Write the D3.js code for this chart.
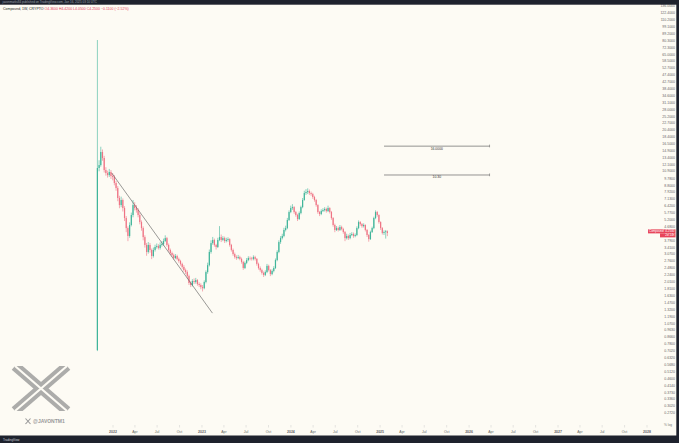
<!DOCTYPE html>
<html><head><meta charset="utf-8">
<script src="https://cdn.jsdelivr.net/npm/d3@7"></script>
<style>html,body{margin:0;padding:0;background:#fdfbf4;overflow:hidden}svg{display:block}</style>
</head><body><svg id="c" width="679" height="443"></svg>
<script>
// ---- data ----
const startWeek = "2021-10-29";
const firstOpen = 0.711;
const closes = [
11.46, 11.99, 14.63, 13.35, 11.11, 10.61, 10.29, 10.78, 10.14, 9.99,
9.11, 8.44, 7.25, 6.51, 7.03, 6.22, 5.34, 4.58, 4.06, 4.80,
5.59, 6.51, 6.22, 6.03, 5.59, 5.02, 4.58, 3.99, 3.54, 3.18,
3.54, 3.28, 2.99, 3.28, 3.43, 3.48, 3.38, 3.54, 3.59, 3.76,
3.93, 3.54, 3.28, 3.13, 3.03, 2.90, 2.99, 2.86, 2.77, 2.65,
2.53, 2.41, 2.34, 2.20, 1.98, 1.92, 2.04, 2.01, 2.07, 1.95,
1.92, 1.86, 1.83, 2.01, 2.34, 2.60, 3.18, 3.64, 3.82, 3.54,
3.43, 3.82, 3.99, 3.82, 3.93, 3.76, 3.82, 3.87, 3.54, 3.28,
3.08, 2.94, 2.90, 2.94, 2.86, 2.73, 2.49, 2.69, 2.81, 2.90,
2.88, 2.86, 2.94, 2.86, 2.65, 2.49, 2.41, 2.31, 2.24, 2.34,
2.57, 2.41, 2.27, 2.38, 2.49, 2.81, 3.18, 3.70, 3.93, 4.06,
4.45, 4.58, 5.18, 5.85, 6.22, 6.31, 5.85, 5.59, 5.26, 5.76,
6.31, 7.03, 7.82, 7.94, 8.06, 7.82, 7.70, 7.36, 7.03, 6.51,
5.85, 5.68, 5.94, 6.03, 6.13, 5.94, 6.22, 5.85, 5.34, 4.80,
4.45, 4.58, 4.45, 4.65, 4.51, 4.31, 3.93, 4.06, 3.93, 4.12,
4.18, 4.06, 4.12, 4.58, 5.02, 4.87, 4.72, 4.80, 4.45, 4.12,
3.87, 4.31, 4.58, 5.34, 5.85, 5.59, 5.02, 4.58, 4.25, 4.31,
4.36, 4.25];
const highs = [
80.9, 12.9, 15.86, 15.2, 13.8, 11.6, 11.0, 11.3, 11.1, 10.6,
10.3, 9.4, 8.7, 7.5, 7.4, 7.2, 6.4, 5.5, 4.7, 5.0,
5.8, 7.03, 6.8, 6.5, 6.2, 5.8, 5.15, 4.7, 4.1, 3.65,
3.7, 3.65, 3.35, 3.4, 3.55, 3.62, 3.58, 3.68, 3.75, 3.9,
4.1, 4.0, 3.62, 3.35, 3.2, 3.1, 3.08, 3.05, 2.92, 2.82,
2.7, 2.6, 2.47, 2.4, 2.25, 2.03, 2.1, 2.12, 2.14, 2.1,
2.0, 1.97, 1.92, 2.06, 2.4, 2.7, 3.3, 3.8, 4.0, 3.9,
3.6, 3.95, 4.72, 4.15, 4.05, 4.02, 3.95, 3.98, 3.92, 3.6,
3.35, 3.15, 3.02, 3.04, 3.0, 2.92, 2.78, 2.75, 2.9, 2.98,
2.97, 2.95, 3.02, 3.0, 2.9, 2.7, 2.55, 2.46, 2.36, 2.4,
2.65, 2.62, 2.45, 2.44, 2.56, 2.88, 3.26, 3.8, 4.05, 4.2,
4.6, 4.75, 5.35, 6.0, 6.45, 6.6, 6.4, 5.95, 5.7, 5.9,
6.45, 7.25, 8.1, 8.3, 8.4, 8.25, 8.0, 7.85, 7.5, 7.15,
6.6, 5.95, 6.1, 6.2, 6.3, 6.25, 6.45, 6.3, 5.95, 5.42,
4.9, 4.72, 4.68, 4.8, 4.75, 4.6, 4.38, 4.2, 4.15, 4.25,
4.3, 4.28, 4.22, 4.7, 5.15, 5.1, 4.95, 4.92, 4.85, 4.52,
4.18, 4.4, 4.68, 5.45, 6.0, 5.95, 5.65, 5.08, 4.65, 4.42,
4.45, 4.42];
const lows = [
0.70, 10.9, 11.7, 12.8, 10.7, 10.2, 9.9, 10.0, 9.7, 9.5,
8.8, 8.1, 6.9, 6.2, 6.3, 5.9, 5.1, 4.3, 3.75, 3.95,
4.7, 5.4, 6.0, 5.8, 5.4, 4.85, 4.4, 3.8, 3.4, 3.0,
3.1, 3.15, 2.85, 2.92, 3.2, 3.35, 3.3, 3.3, 3.45, 3.5,
3.7, 3.45, 3.2, 3.05, 2.95, 2.83, 2.85, 2.8, 2.7, 2.58,
2.46, 2.35, 2.27, 2.12, 1.92, 1.86, 1.88, 1.95, 1.96, 1.9,
1.86, 1.8, 1.74, 1.8, 1.97, 2.28, 2.55, 3.1, 3.55, 3.45,
3.3, 3.38, 3.75, 3.7, 3.75, 3.65, 3.68, 3.72, 3.45, 3.2,
3.0, 2.87, 2.82, 2.85, 2.8, 2.66, 2.42, 2.45, 2.64, 2.76,
2.8, 2.79, 2.8, 2.79, 2.58, 2.43, 2.35, 2.25, 2.17, 2.2,
2.3, 2.36, 2.2, 2.23, 2.33, 2.45, 2.76, 3.12, 3.6, 3.85,
3.98, 4.35, 4.5, 5.1, 5.75, 6.05, 5.7, 5.45, 5.1, 5.18,
5.65, 6.2, 6.95, 7.6, 7.7, 7.6, 7.5, 7.15, 6.85, 6.35,
5.7, 5.5, 5.58, 5.85, 5.9, 5.8, 5.85, 5.72, 5.2, 4.68,
4.3, 4.38, 4.35, 4.38, 4.42, 4.2, 3.75, 3.85, 3.82, 3.86,
4.05, 3.95, 3.98, 4.05, 4.5, 4.75, 4.6, 4.62, 4.35, 4.0,
3.72, 3.82, 4.25, 4.5, 5.25, 5.45, 4.9, 4.45, 4.15, 4.12,
3.9, 4.05];
const priceTicks = [136, 122.4, 110.2, 99.1, 89.2, 80.3, 72.3, 65.0, 58.5, 52.7,
47.4, 42.7, 38.4, 34.6, 31.1, 28.0, 25.2, 22.7, 20.4, 18.4,
16.5, 14.9, 13.4, 12.1, 10.9, 9.78, 8.80, 7.92, 7.13, 6.42,
5.77, 5.20, 4.68, 4.21, 3.79, 3.41, 3.07, 2.76, 2.48, 2.24,
2.01, 1.81, 1.63, 1.47, 1.32, 1.19, 1.07, 0.963, 0.866, 0.780,
0.702, 0.632, 0.568, 0.512, 0.460, 0.414, 0.373, 0.336, 0.302, 0.272];
const timeTickDates = ["2022-01-01","2022-04-01","2022-07-01","2022-10-01","2023-01-01","2023-04-01","2023-07-01","2023-10-01",
"2024-01-01","2024-04-01","2024-07-01","2024-10-01","2025-01-01","2025-04-01","2025-07-01","2025-10-01",
"2026-01-01","2026-04-01","2026-07-01","2026-10-01","2027-01-01","2027-04-01","2027-07-01","2027-10-01","2028-01-01"];
const timeTickLabels = ["2022","Apr","Jul","Oct","2023","Apr","Jul","Oct","2024","Apr","Jul","Oct","2025","Apr","Jul","Oct",
"2026","Apr","Jul","Oct","2027","Apr","Jul","Oct","2028"];
const trendDates = ["2021-12-27","2023-02-13"];
const trendPrices = [10.6, 1.25];
const levelPrices = [16.0, 10.3];
const levelLabels = ["16.0000", "10.30"];
const levelDates = ["2025-01-17","2026-03-26"];
const lastPrice = 4.25;

// ---- chart ----
const svg = d3.select("#c");
const W = 679, H = 443;
const bg = "#fdfbf4";
const font = "'Liberation Sans', Arial, sans-serif";
svg.append("rect").attr("width", W).attr("height", H).attr("fill", bg);

const pd = s => d3.utcParse("%Y-%m-%d")(s);
const x = d3.scaleUtc().domain([pd("2022-01-01"), pd("2028-01-01")]).range([113, 647]);
const y = d3.scaleLog().domain([0.272, 136]).range([413, 6]);

const start = pd(startWeek);
const candles = closes.map((c, i) => ({
  date: d3.utcHour.offset(start, 167 * i),
  o: i === 0 ? firstOpen : closes[i - 1], c, h: highs[i], l: lows[i]
}));

const up = "#3fb59a", dn = "#ef7384";
const g = svg.append("g");
g.selectAll("line.w").data(candles).join("line")
  .attr("x1", d => x(d.date)).attr("x2", d => x(d.date))
  .attr("y1", d => y(d.h)).attr("y2", d => y(d.l))
  .attr("stroke", d => d.c >= d.o ? up : dn).attr("stroke-width", 0.6);
g.selectAll("rect.b").data(candles).join("rect")
  .attr("x", d => x(d.date) - 0.6).attr("width", 1.2)
  .attr("y", d => y(Math.max(d.o, d.c)))
  .attr("height", d => Math.max(0.5, Math.abs(y(d.o) - y(d.c))))
  .attr("fill", d => d.c >= d.o ? up : dn);

// trendline
svg.append("line")
  .attr("x1", x(pd(trendDates[0]))).attr("y1", y(trendPrices[0]))
  .attr("x2", x(pd(trendDates[1]))).attr("y2", y(trendPrices[1]))
  .attr("stroke", "#555").attr("stroke-width", 0.6);

// horizontal levels
levelPrices.forEach((p, i) => {
  const x1 = x(pd(levelDates[0])), x2 = x(pd(levelDates[1])), yy = y(p);
  svg.append("line").attr("x1", x1).attr("x2", x2).attr("y1", yy).attr("y2", yy)
    .attr("stroke", "#666").attr("stroke-width", 0.7);
  svg.append("line").attr("x1", x2).attr("x2", x2).attr("y1", yy - 1.5).attr("y2", yy + 1.2)
    .attr("stroke", "#666").attr("stroke-width", 0.6);
  svg.append("text").attr("x", (x1 + x2) / 2).attr("y", yy + 3.4)
    .attr("text-anchor", "middle").attr("font-family", font).attr("font-size", 3.4)
    .attr("fill", "#333").text(levelLabels[i]);
});

// right price axis
const lp = y(lastPrice);
svg.append("g").selectAll("text").data(priceTicks.filter(v => Math.abs(y(v) - lp) > 5)).join("text")
  .attr("x", 675).attr("y", v => y(v) + 1.2).attr("text-anchor", "end")
  .attr("font-family", font).attr("font-size", 3.5).attr("fill", "#666")
  .text(d3.format(".4f"));
svg.append("rect").attr("x", 648).attr("y", lp - 3.6).attr("width", 27.5).attr("height", 4).attr("fill", "#e8455a");
svg.append("rect").attr("x", 660).attr("y", lp + 0.4).attr("width", 15.5).attr("height", 4).attr("fill", "#e8455a");
svg.append("text").attr("x", 649).attr("y", lp - 0.6).attr("font-family", font).attr("font-size", 3)
  .attr("fill", "#fff").text("Compound");
svg.append("text").attr("x", 674.5).attr("y", lp - 0.6).attr("text-anchor", "end").attr("font-family", font).attr("font-size", 3)
  .attr("fill", "#fff").text(d3.format(".4f")(lastPrice));
svg.append("text").attr("x", 674.5).attr("y", lp + 3.4).attr("text-anchor", "end").attr("font-family", font).attr("font-size", 3)
  .attr("fill", "#fff").text("2d 14h");

// bottom time axis
const tg = svg.append("g");
timeTickDates.forEach((d, i) => {
  const xx = x(pd(d));
  tg.append("line").attr("x1", xx).attr("x2", xx).attr("y1", 425).attr("y2", 427.5).attr("stroke", "#ccc").attr("stroke-width", 0.5);
  tg.append("text").attr("x", xx).attr("y", 432.5).attr("text-anchor", "middle")
    .attr("font-family", font).attr("font-size", 3.5).attr("fill", "#666")
    .attr("font-weight", /^\d/.test(timeTickLabels[i]) ? "bold" : "normal").text(timeTickLabels[i]);
});
svg.append("text").attr("x", 668).attr("y", 425.5).attr("text-anchor", "middle").attr("font-family", font)
  .attr("font-size", 3.2).attr("fill", "#777").text("% log");

// frame bars
svg.append("rect").attr("x", 0).attr("y", 0).attr("width", W).attr("height", 4.7).attr("fill", "#1e222d");
svg.append("rect").attr("x", 0).attr("y", 435.5).attr("width", W).attr("height", 8).attr("fill", "#1e222d");
svg.append("rect").attr("x", 676.3).attr("y", 0).attr("width", 3).attr("height", H).attr("fill", "#1e222d");
svg.append("text").attr("x", 2.5).attr("y", 3.4).attr("font-family", font).attr("font-size", 3)
  .attr("fill", "#9aa0aa").text("javonmarks84 published on TradingView.com, Jan 16, 2025 03:10 UTC");
svg.append("text").attr("x", 3).attr("y", 440.5).attr("font-family", font).attr("font-size", 3)
  .attr("fill", "#c8ccd4").text("TradingView");

// header
const hdr = svg.append("text").attr("x", 3).attr("y", 10.3).attr("font-family", font).attr("font-size", 3.5);
hdr.append("tspan").attr("fill", "#222").text("Compound, 1W, CRYPTO ");
hdr.append("tspan").attr("fill", "#e8455a").text("O4.3600 H4.4200 L4.0500 C4.2500 −0.1100 (−2.52%)");

// watermark
const wm = svg.append("g");
[[15, 366, 67, 411], [67, 366, 15, 411]].forEach(([a, b, c, d]) => {
  wm.append("line").attr("x1", a).attr("y1", b).attr("x2", c).attr("y2", d)
    .attr("stroke", "#acacaa").attr("stroke-width", 10);
});
[[15, 366, 67, 411], [67, 366, 15, 411]].forEach(([a, b, c, d]) => {
  wm.append("line").attr("x1", a).attr("y1", b).attr("x2", c).attr("y2", d)
    .attr("stroke", bg).attr("stroke-width", 2.2);
});
wm.append("rect").attr("x", 10).attr("y", 361).attr("width", 62).attr("height", 5).attr("fill", bg);
wm.append("rect").attr("x", 10).attr("y", 411).attr("width", 62).attr("height", 5).attr("fill", bg);
[[25.5, 418.5, 30.5, 424], [30.5, 418.5, 25.5, 424]].forEach(([a, b, c, d]) => {
  wm.append("line").attr("x1", a).attr("y1", b).attr("x2", c).attr("y2", d).attr("stroke", "#999").attr("stroke-width", 1.1);
});
wm.append("text").attr("x", 33).attr("y", 423.3).attr("font-family", font).attr("font-size", 5)
  .attr("font-weight", "bold").attr("fill", "#999").text("@JAVONTM1");
</script>
</body></html>
